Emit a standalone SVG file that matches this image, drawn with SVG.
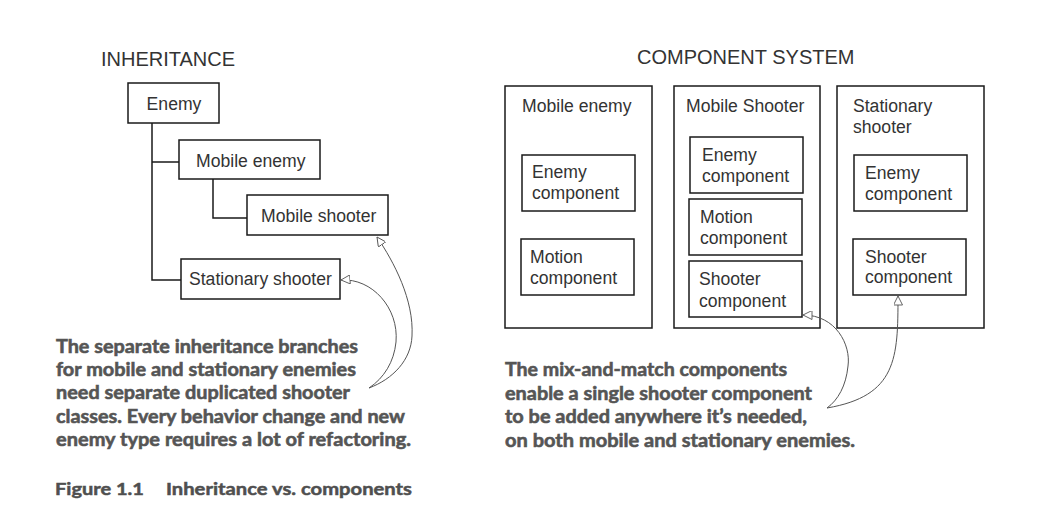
<svg xmlns="http://www.w3.org/2000/svg" width="1053" height="522" viewBox="0 0 1053 522">
<style>
.bg{fill:#fff}
.box{fill:#fff;stroke:#1a1a1a;stroke-width:1.5}
.tr{stroke:#1a1a1a;stroke-width:1.5;fill:none}
.cv{stroke:#555;stroke-width:1;fill:none}
.hd{font-family:"Liberation Sans",Arial,sans-serif;font-size:20px;fill:#333}
.lb{font-family:"Liberation Sans",Arial,sans-serif;font-size:17.6px;fill:#333}
.note{font-family:Lato,"Open Sans",sans-serif;font-weight:bold;font-size:19.5px;fill:#555;stroke:#555;stroke-width:0.6}
.cap{font-family:Lato,"Open Sans",sans-serif;font-weight:bold;font-size:17.5px;fill:#4f4f4f;stroke:#4f4f4f;stroke-width:0.5}
</style>
<defs>
<marker id="tri" viewBox="0 0 10 10" refX="10" refY="5" markerUnits="userSpaceOnUse" markerWidth="10" markerHeight="9" orient="auto-start-reverse">
<path d="M0,0 L10,5 L0,10 z" fill="#fff" stroke="#555" stroke-width="1"/>
</marker>
</defs>
<rect class="bg" x="0" y="0" width="1053" height="522"/>

<text class="hd" x="101" y="66">INHERITANCE</text>
<text class="hd" x="637" y="64">COMPONENT SYSTEM</text>

<g id="inh-enemy"><rect class="box" x="128" y="83" width="91" height="40"/><text class="lb" x="174" y="110" text-anchor="middle">Enemy</text></g>
<g id="inh-mobile-enemy"><rect class="box" x="179" y="140" width="141" height="39"/><text class="lb" x="196" y="167">Mobile enemy</text></g>
<g id="inh-mobile-shooter"><rect class="box" x="247" y="195" width="141" height="40"/><text class="lb" x="261" y="222">Mobile shooter</text></g>
<g id="inh-stationary-shooter"><rect class="box" x="181" y="259" width="159" height="40"/><text class="lb" x="189" y="285">Stationary shooter</text></g>

<g id="cs-mobile-enemy">
<rect class="box" x="505" y="86" width="147" height="242"/>
<text class="lb" x="522" y="112">Mobile enemy</text>
<rect class="box" x="522" y="155" width="113" height="56"/>
<text class="lb" x="532" y="178">Enemy</text><text class="lb" x="532" y="198.5">component</text>
<rect class="box" x="521" y="239" width="113" height="56"/>
<text class="lb" x="530" y="263">Motion</text><text class="lb" x="530" y="284">component</text>
</g>

<g id="cs-mobile-shooter">
<rect class="box" x="674" y="86" width="146" height="242"/>
<text class="lb" x="686" y="112">Mobile Shooter</text>
<rect class="box" x="690" y="137" width="113" height="56"/>
<text class="lb" x="702" y="161">Enemy</text><text class="lb" x="702" y="182">component</text>
<rect class="box" x="689" y="199" width="113" height="56"/>
<text class="lb" x="700" y="223">Motion</text><text class="lb" x="700" y="244">component</text>
<rect class="box" x="689" y="261" width="113" height="56"/>
<text class="lb" x="699" y="285">Shooter</text><text class="lb" x="699" y="306.5">component</text>
</g>

<g id="cs-stationary-shooter">
<rect class="box" x="837" y="86" width="147" height="242"/>
<text class="lb" x="853" y="112">Stationary</text><text class="lb" x="853" y="133">shooter</text>
<rect class="box" x="854" y="155" width="113" height="56"/>
<text class="lb" x="865" y="179">Enemy</text><text class="lb" x="865" y="199.5">component</text>
<rect class="box" x="853" y="239" width="113" height="56"/>
<text class="lb" x="865" y="263">Shooter</text><text class="lb" x="865" y="283">component</text>
</g>

<g id="connectors">
<path class="tr" d="M152,123 V280 H181 M152,162 H179 M213,179 V218 H247"/>
<path class="cv" marker-start="url(#tri)" d="M341,280 C372,278 399,308 396,342 C394,362 384,378 369,388"/>
<path class="cv" marker-start="url(#tri)" d="M377,237 C394,262 414,300 412,336 C411,360 393,379 369,388"/>
<path class="cv" marker-start="url(#tri)" d="M803,315 C836,315 851,345 848,366 C846,386 838,400 827,408"/>
<path class="cv" marker-start="url(#tri)" d="M898,296 C898,358 897,396 827,408"/>
</g>

<g id="note-left">
<text class="note" x="56" y="353" textLength="302" lengthAdjust="spacingAndGlyphs">The separate inheritance branches</text>
<text class="note" x="56" y="376" textLength="300" lengthAdjust="spacingAndGlyphs">for mobile and stationary enemies</text>
<text class="note" x="56" y="399" textLength="294" lengthAdjust="spacingAndGlyphs">need separate duplicated shooter</text>
<text class="note" x="56" y="422.5" textLength="349" lengthAdjust="spacingAndGlyphs">classes. Every behavior change and new</text>
<text class="note" x="56" y="446" textLength="355" lengthAdjust="spacingAndGlyphs">enemy type requires a lot of refactoring.</text>
</g>

<g id="note-right">
<text class="note" x="505" y="376" textLength="282" lengthAdjust="spacingAndGlyphs">The mix-and-match components</text>
<text class="note" x="505" y="399.5" textLength="307" lengthAdjust="spacingAndGlyphs">enable a single shooter component</text>
<text class="note" x="505" y="423" textLength="302" lengthAdjust="spacingAndGlyphs">to be added anywhere it’s needed,</text>
<text class="note" x="505" y="446.5" textLength="350" lengthAdjust="spacingAndGlyphs">on both mobile and stationary enemies.</text>
</g>

<g id="caption">
<text class="cap" x="55" y="495" textLength="89" lengthAdjust="spacingAndGlyphs">Figure 1.1</text>
<text class="cap" x="166" y="495" textLength="246" lengthAdjust="spacingAndGlyphs">Inheritance vs. components</text>
</g>
</svg>
